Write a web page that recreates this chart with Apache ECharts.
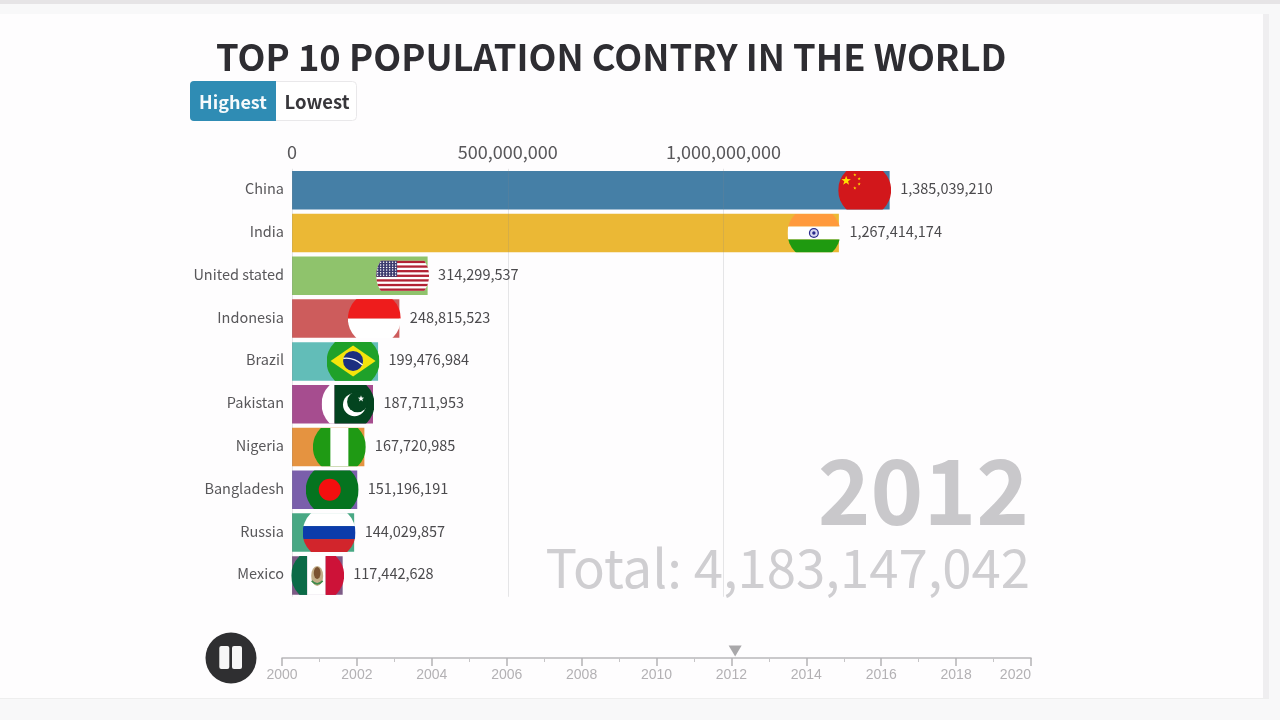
<!DOCTYPE html>
<html>
<head>
<meta charset="utf-8">
<title>Top 10 population</title>
<script src="https://cdn.jsdelivr.net/npm/echarts@6/dist/echarts.min.js"></script>
<style>
  html, body { margin: 0; padding: 0; width: 1280px; height: 720px; overflow: hidden; background: #f8f8f9; }
  #topband { position: absolute; left: 0; top: 0; width: 1280px; height: 4px; background: #e6e4e6; }
  #panel { position: absolute; left: 0; top: 14px; width: 1263px; height: 684px; background: #fefdfe; box-shadow: 0 1px 0 #eeeeee; border-right: 6px solid #efeef0; }
  #chart { position: absolute; left: 0; top: 0; width: 1280px; height: 720px; }
</style>
</head>
<body>
<div id="topband"></div>
<div id="panel"></div>
<div id="chart"></div>
<script>
const titleText = 'TOP 10 POPULATION CONTRY IN THE WORLD';
const sortButtons = ['Highest', 'Lowest'];
const categories = ['China', 'India', 'United stated', 'Indonesia', 'Brazil', 'Pakistan', 'Nigeria', 'Bangladesh', 'Russia', 'Mexico'];
const population = [1385039210, 1267414174, 314299537, 248815523, 199476984, 187711953, 167720985, 151196191, 144029857, 117442628];
const barColors = ['#457fa6', '#ebb835', '#8fc36c', '#cd5c5c', '#62bdb8', '#a64d8f', '#e59340', '#7a5fab', '#48a884', '#7d5a86'];
const currentYear = 2012;
const yearPointer = [2012.1];
const yearRange = [2000, 2020];

const FONT = '"Noto Sans CJK SC", "Noto Sans", sans-serif';

// Flag artwork, cut to the round badge that rides on the end of each bar.
const star = (cx, cy, r, fill) => {
  let pts = [];
  for (let i = 0; i < 10; i++) {
    const a = -Math.PI / 2 + i * Math.PI / 5, q = i % 2 ? r * 0.4 : r;
    pts.push((cx + q * Math.cos(a)).toFixed(2) + ',' + (cy + q * Math.sin(a)).toFixed(2));
  }
  return `<polygon points="${pts.join(' ')}" fill="${fill}"/>`;
};
const usStripes = () => {
  let s = '<rect x="0" y="4.5" width="53" height="30" fill="#fff"/>';
  for (let i = 0; i < 7; i++) s += `<rect x="0" y="${(4.5 + i * 30 / 6.5).toFixed(2)}" width="53" height="2.3" fill="#b22234"/>`;
  s += '<rect x="0" y="4.5" width="21" height="16" fill="#3c3b6e"/>';
  for (let r = 0; r < 6; r++) for (let c = 0; c < 7; c++) {
    s += `<circle cx="${1.5 + c * 3}" cy="${6 + r * 2.6}" r="0.75" fill="#fff"/>`;
  }
  return s;
};
const flagArt = {
  'China': '<rect width="53" height="39" fill="#d2171b"/>' + star(8, 10, 5, '#ffde00') + star(16.7, 4.2, 1.7, '#ffde00') + star(21, 8, 1.7, '#ffde00') + star(21, 13.3, 1.7, '#ffde00') + star(16.7, 17.3, 1.7, '#ffde00'),
  'India': '<rect width="53" height="13" fill="#ff9a3c"/><rect y="13" width="53" height="13" fill="#fff"/><rect y="26" width="53" height="13" fill="#1f9a10"/><circle cx="26.5" cy="19.5" r="5" fill="#2a2a8c"/><circle cx="26.5" cy="19.5" r="3.8" fill="#d9d9f0"/><circle cx="26.5" cy="19.5" r="1.7" fill="#2a2a8c"/>',
  'United stated': usStripes(),
  'Indonesia': '<rect width="53" height="19.5" fill="#ee1c1c"/><rect y="19.5" width="53" height="19.5" fill="#fff"/>',
  'Brazil': '<rect width="53" height="39" fill="#1fa12a"/><polygon points="4,19 26.5,3.5 49,19 26.5,34.5" fill="#f4e40c"/><circle cx="26.5" cy="19" r="10" fill="#1c2f80"/><path d="M16.8 16.5 Q27 15 36 23" stroke="#fff" stroke-width="1.3" fill="none"/>',
  'Pakistan': '<rect width="13" height="39" fill="#fff"/><rect x="13" width="40" height="39" fill="#03441f"/><circle cx="33" cy="20" r="11.5" fill="#fff"/><circle cx="36" cy="17.2" r="10.4" fill="#03441f"/>' + star(39.5, 14, 3.4, '#fff'),
  'Nigeria': '<rect width="53" height="39" fill="#1f9a14"/><rect x="17.5" width="18" height="39" fill="#fff"/>',
  'Bangladesh': '<rect width="53" height="39" fill="#05741f"/><circle cx="24" cy="19.5" r="11" fill="#f40f0f"/>',
  'Russia': '<rect width="53" height="13" fill="#fff"/><rect y="13" width="53" height="13" fill="#0c3cab"/><rect y="26" width="53" height="13" fill="#d2252c"/>',
  'Mexico': '<rect width="16" height="39" fill="#0b6b47"/><rect x="16" width="18.5" height="39" fill="#fff"/><rect x="34.5" width="18.5" height="39" fill="#cd1238"/><ellipse cx="26" cy="20" rx="6" ry="10" fill="#c2ae88"/><ellipse cx="26" cy="17" rx="3.4" ry="6" fill="#7a5230"/><path d="M20.5 25 Q26 31 31.5 25" stroke="#3f8a4c" stroke-width="1.6" fill="none"/>'
};
const flagSymbol = name => {
  const svg = `<svg xmlns="http://www.w3.org/2000/svg" width="53" height="39" viewBox="0 0 53 39"><defs><clipPath id="c"><circle cx="26.5" cy="19.5" r="26.5"/></clipPath></defs><g clip-path="url(#c)">${flagArt[name]}</g></svg>`;
  return 'image://data:image/svg+xml;charset=utf-8,' + encodeURIComponent(svg);
};

const fmt = v => v.toLocaleString('en-US');
const total = population.reduce((a, b) => a + b, 0);

const chart = echarts.init(document.getElementById('chart'), null, { renderer: 'canvas' });
chart.setOption({
  animation: false,
  backgroundColor: 'transparent',
  grid: [
    { left: 292, top: 168.8, width: 604.1, height: 428 },
    { left: 282, top: 648, width: 749, height: 10 }
  ],
  xAxis: [
    {
      gridIndex: 0, type: 'value', position: 'top', min: 0, max: 1400000000, interval: 500000000, z: 3,
      axisLine: { show: false }, axisTick: { show: false },
      axisLabel: { show: true, margin: 8, fontFamily: FONT, fontSize: 18, color: '#58575a', formatter: fmt, showMaxLabel: false },
      splitLine: { show: true, showMaxLine: false, lineStyle: { color: 'rgba(130,135,140,0.2)', width: 1 } }
    },
    {
      gridIndex: 1, type: 'value', position: 'bottom', min: yearRange[0], max: yearRange[1], interval: 2,
      axisLine: { show: true, onZero: false, lineStyle: { color: '#b9b8ba', width: 1.5 } },
      axisTick: { show: true, length: 8, lineStyle: { color: '#b4b3b5', width: 1.5 } },
      minorTick: { show: true, splitNumber: 2, length: 4, lineStyle: { color: '#c6c5c7', width: 1 } },
      axisLabel: { margin: 10, fontFamily: '"Liberation Sans", Arial, sans-serif', fontSize: 14, color: '#b3b1b4', formatter: v => String(v), alignMaxLabel: 'right' },
      splitLine: { show: false }
    }
  ],
  yAxis: [
    {
      gridIndex: 0, type: 'category', inverse: true, data: categories,
      axisLine: { show: false }, axisTick: { show: false },
      axisLabel: {
        margin: 8, formatter: '{n|{value}}',
        rich: { n: { fontFamily: FONT, fontSize: 14.5, color: '#58575a', padding: [0, 0, 3, 0] } }
      },
      splitLine: { show: false }
    },
    { gridIndex: 1, type: 'value', min: 0, max: 1, show: false }
  ],
  series: [
    {
      name: 'Population', type: 'bar', xAxisIndex: 0, yAxisIndex: 0, barWidth: 38.5, z: 2,
      data: population.map((v, i) => ({ value: v, itemStyle: { color: barColors[i] } })),
      label: { show: true, position: 'right', distance: 10.5, offset: [0, -1.5], fontFamily: FONT, fontSize: 14.5, color: '#4b4a4d', formatter: p => fmt(p.value) }
    },
    {
      name: 'Flags', type: 'scatter', xAxisIndex: 0, yAxisIndex: 0, z: 5, clip: false, silent: true,
      symbolSize: [53, 39], symbolOffset: [-25, 0], itemStyle: { opacity: 1 },
      data: categories.map((c, i) => ({ value: [population[i], c], symbol: flagSymbol(c) }))
    },
    {
      name: 'Year', type: 'scatter', xAxisIndex: 1, yAxisIndex: 1, clip: false, silent: true,
      symbol: 'triangle', symbolRotate: 180, symbolSize: [13, 11], symbolOffset: [0, -7],
      itemStyle: { color: '#a9a8aa', opacity: 1 },
      data: yearPointer.map(y => [y, 0])
    }
  ],
  graphic: [
    { type: 'text', left: 216, top: 39, style: { text: titleText, font: `bold 36.3px ${FONT}`, fill: '#2e2d32' } },
    { type: 'rect', shape: { x: 190.5, y: 81.5, width: 166, height: 39, r: 4 }, style: { fill: '#ffffff', stroke: '#e9e8ea', lineWidth: 1 } },
    { type: 'rect', shape: { x: 190, y: 81, width: 86, height: 40, r: [4, 0, 0, 4] }, style: { fill: '#2f8cb4' } },
    { type: 'text', x: 233, y: 102, style: { text: sortButtons[0], align: 'center', verticalAlign: 'middle', font: `bold 18px ${FONT}`, fill: '#f6fafc' } },
    { type: 'text', x: 317, y: 102, style: { text: sortButtons[1], align: 'center', verticalAlign: 'middle', font: `bold 18.5px ${FONT}`, fill: '#38373b' } },
    { type: 'text', x: 1029, y: 491, z: 0, style: { text: String(currentYear), align: 'right', verticalAlign: 'middle', font: `bold 89.5px ${FONT}`, fill: '#c9c8cb' } },
    { type: 'text', x: 1030, y: 568, z: 0, style: { text: 'Total: ' + fmt(total), align: 'right', verticalAlign: 'middle', font: `52.7px ${FONT}`, fill: '#cfced1' } },
    { type: 'circle', shape: { cx: 231, cy: 658, r: 25.5 }, style: { fill: '#2f2f31' } },
    { type: 'rect', shape: { x: 219.3, y: 646, width: 10, height: 23, r: 2 }, style: { fill: '#f7f7f7' } },
    { type: 'rect', shape: { x: 232, y: 646, width: 10, height: 23, r: 2 }, style: { fill: '#f7f7f7' } }
  ]
});
</script>
</body>
</html>
